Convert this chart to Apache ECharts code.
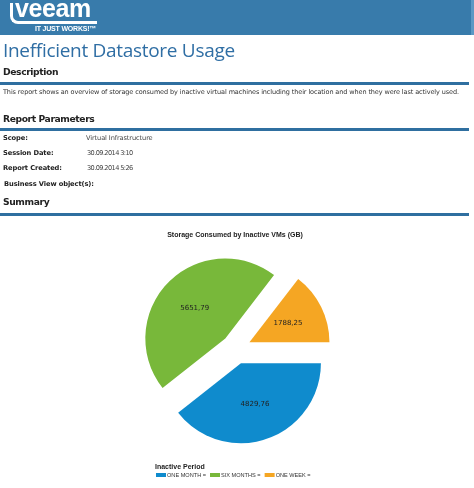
<!DOCTYPE html>
<html>
<head>
<meta charset="utf-8">
<script src="https://cdn.jsdelivr.net/npm/echarts@6/dist/echarts.min.js"></script>
<style>
  html, body { margin:0; padding:0; width:474px; height:488px; background:#fff; overflow:hidden; }
  #chart { position:absolute; left:0; top:0; width:474px; height:488px; }
  .abs { position:absolute; white-space:nowrap; }
  #banner { position:absolute; left:0; top:0; width:474px; height:35px; background:#387bab; }
  #bar { position:absolute; left:471px; top:0; width:3px; height:35px; background:#5b98c4; }
  #logoBracket { position:absolute; left:10px; top:3px; width:84px; height:18px; border-left:3px solid #fff; border-bottom:3px solid #fff; border-bottom-left-radius:8px; }
  #logoText { position:absolute; left:15px; top:-6px; font-family:"Liberation Sans", Arial, sans-serif; font-weight:bold; font-size:25px; color:#fff; letter-spacing:-0.4px; }
  #logoSub { position:absolute; left:35px; top:25px; font-family:"Liberation Sans", Arial, sans-serif; font-weight:bold; font-size:7px; color:#fff; letter-spacing:-0.2px; }
  #title { left:3px; top:37px; font-family:"Open Sans", sans-serif; font-size:19px; color:#2f6ea4; letter-spacing:-0.3px; }
  .sec { left:3px; font-family:"DejaVu Sans", sans-serif; font-weight:bold; font-size:9.2px; color:#222; letter-spacing:-0.4px; }
  .rule { position:absolute; left:0; width:469px; height:3px; background:#2f6fa0; }
  .desc { left:3px; font-family:"DejaVu Sans", sans-serif; font-size:6.5px; color:#333; letter-spacing:-0.1px; }
  .lab { left:3px; font-family:"DejaVu Sans", sans-serif; font-weight:bold; font-size:6.7px; color:#222; letter-spacing:-0.1px; }
  .val { left:86px; font-family:"DejaVu Sans", sans-serif; font-size:6.6px; color:#444; letter-spacing:-0.1px; }
  .date { letter-spacing:-0.6px; }
</style>
</head>
<body>
<div id="chart"></div>
<div id="banner"><div id="bar"></div><div id="logoBracket"></div><div id="logoText">veeam</div><div id="logoSub">IT JUST WORKS!™</div></div>
<div class="abs" id="title">Inefficient Datastore Usage</div>
<div class="abs sec" style="top:66px">Description</div>
<div class="rule" style="top:82px"></div>
<div class="abs desc" style="top:88px">This report shows an overview of storage consumed by inactive virtual machines including their location and when they were last actively used.</div>
<div class="abs sec" style="top:113px">Report Parameters</div>
<div class="rule" style="top:128px"></div>
<div class="abs lab" style="top:134px">Scope:</div>
<div class="abs val" style="top:134px">Virtual Infrastructure</div>
<div class="abs lab" style="top:149px">Session Date:</div>
<div class="abs val date" style="top:149px;left:87px">30.09.2014 3:10</div>
<div class="abs lab" style="top:164px">Report Created:</div>
<div class="abs val date" style="top:164px;left:87px">30.09.2014 5:26</div>
<div class="abs lab" style="top:180px;left:4px">Business View object(s):</div>
<div class="abs sec" style="top:196px">Summary</div>
<div class="rule" style="top:213px"></div>
<script>
var categories = ["ONE MONTH", "SIX MONTHS", "ONE WEEK"];
var values = [4829.76, 5651.79, 1788.25];
var valueLabels = ["4829,76", "5651,79", "1788,25"];
var colors = ["#0f8bcd", "#78b83a", "#f5a623"];

var chart = echarts.init(document.getElementById('chart'));
chart.setOption({
  animation: false,
  title: [
    { text: "Storage Consumed by Inactive VMs (GB)", left: 230, top: 227, textAlign: 'center',
      textStyle: { fontFamily: "Liberation Sans", fontSize: 7, fontWeight: 'bold', color: '#222' } },
    { text: "Inactive Period", left: 150, top: 459,
      textStyle: { fontFamily: "Liberation Sans", fontSize: 7, fontWeight: 'bold', color: '#222' } }
  ],
  legend: {
    left: 151, top: 467, icon: 'rect', itemWidth: 10, itemHeight: 4, itemGap: 4,
    selectedMode: false,
    formatter: function (n) { return n + " ="; },
    textStyle: { fontFamily: "Liberation Sans", fontSize: 5.6, color: '#333', padding: [0,0,0,-4] },
    data: categories
  },
  series: [{
    type: 'pie',
    center: [236, 349],
    radius: 80,
    startAngle: 0,
    clockwise: true,
    selectedMode: 'multiple',
    selectedOffset: 15,
    emphasis: { disabled: true },
    label: {
      position: 'inside', fontFamily: "DejaVu Sans", fontSize: 7, color: '#222',
      formatter: function (p) { return valueLabels[p.dataIndex]; }
    },
    labelLine: { show: false },
    data: categories.map(function (c, i) {
      return { name: c, value: values[i], selected: true, itemStyle: { color: colors[i] } };
    })
  }]
});
</script>
</body>
</html>
